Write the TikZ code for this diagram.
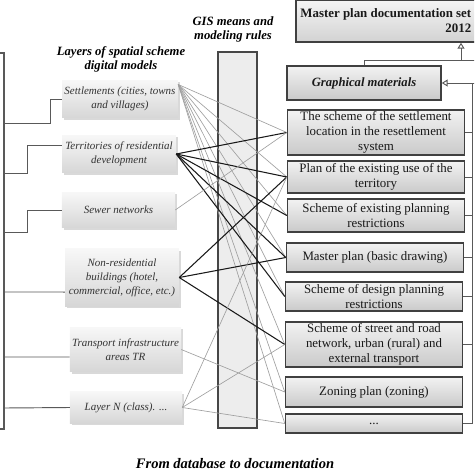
\documentclass[tikz,border=0pt]{standalone}
\usepackage{fontspec}
\setmainfont{Liberation Serif}
\usetikzlibrary{arrows.meta,shadows}

\begin{document}
\begin{tikzpicture}[x=0.03cm,y=-0.03cm,
		laybox/.style={top color=gray!6,bottom color=gray!32,drop shadow={opacity=0.3,shadow xshift=1.5pt,shadow yshift=-1.5pt},align=center,inner sep=1pt,text=black!80,font=\fontsize{9.4}{11.9}\selectfont\itshape},
		docbox/.style={draw=black!75,line width=1.3pt,top color=gray!10,bottom color=gray!42,align=center,inner sep=0.5pt,minimum width=151pt,text=black!90,font=\fontsize{11}{12.8}\selectfont},
		headtxt/.style={align=center,font=\fontsize{10.8}{12}\selectfont\bfseries\itshape},
		wire/.style={draw=black!65,line width=0.8pt},
		darkwire/.style={draw=black!90,line width=0.9pt},
		palewire/.style={draw=gray!75,line width=0.55pt},
		hollowarr/.style={wire,-{Triangle[open,length=5pt,width=6pt]}}]
				% 画布范围
				\useasboundingbox (0,0) rectangle (474,474);
				\clip (0,0) rectangle (474,474);
				% 左侧数据库框与 GIS 竖条
				\node[draw=black!65,line width=1pt,fill=white,minimum width=29pt,minimum height=321pt,inner sep=0pt] (base) at (-13,241) {};
				\node[draw=black!72,line width=1.3pt,fill=gray!14,minimum width=33.3pt,minimum height=321pt,inner sep=0pt] (gis) at (237.5,240) {};
				% 标题
				\node[headtxt] (hlay) at (121,59) {Layers of spatial scheme\\digital models};
				\node[headtxt] (hgis) at (233,29) {GIS means and\\modeling rules};
				\node[headtxt,font=\fontsize{12.4}{14}\selectfont\bfseries\itshape] (cap) at (235,464) {From database to documentation};
				% 图层
				\node[laybox,minimum width=99pt,minimum height=32.4pt] (lay1) at (120,99) {Settlements (cities, towns\\and villages)};
				\node[laybox,minimum width=97.3pt,minimum height=32.4pt] (lay2) at (119,154) {Territories of residential\\development};
				\node[laybox,minimum width=96.5pt,minimum height=30.7pt] (lay3) at (118.5,210) {Sewer networks};
				\node[laybox,minimum width=97.3pt,minimum height=48.7pt] (lay4) at (122,277.5) {Non-residential\\buildings (hotel,\\commercial, office, etc.)};
				\node[laybox,minimum width=94.8pt,minimum height=38.4pt] (lay5) at (125.5,349.5) {Transport infrastructure\\areas TR};
				\node[laybox,minimum width=95.6pt,minimum height=26.5pt] (lay6) at (126,407.5) {Layer N (class). ...};
				% 文档
				\node[docbox,anchor=west,top color=gray!8,bottom color=gray!35,minimum height=35.9pt,inner xsep=4pt,align=right,font=\fontsize{11}{12.8}\selectfont\bfseries] (mset) at (295,21) {Master plan documentation set\kern22pt\\2012\kern22pt};
				\node[docbox,minimum width=131.5pt,minimum height=29pt,font=\fontsize{10.8}{12}\selectfont\bfseries\itshape] (graph) at (364,83) {Graphical materials};
				\node[docbox,minimum height=38.4pt] (doc1) at (376,132.5) {The scheme of the settlement\\location in the resettlement\\system};
				\node[docbox,minimum height=27.3pt] (doc2) at (376,177) {Plan of the existing use of the\\territory};
				\node[docbox,minimum height=28.2pt] (doc3) at (376,215.5) {Scheme of existing planning\\restrictions};
				\node[docbox,minimum height=24.8pt] (doc4) at (375,257.5) {Master plan (basic drawing)};
				\node[docbox,minimum height=24.8pt] (doc5) at (374,296.5) {Scheme of design planning\\restrictions};
				\node[docbox,minimum height=38.4pt] (doc6) at (374,344.5) {Scheme of street and road\\network, urban (rural) and\\external transport};
				\node[docbox,minimum height=25.6pt] (doc7) at (374,392) {Zoning plan (zoning)};
				\node[docbox,minimum height=16.2pt] (doc8) at (374,423.5) {...};
				% 右侧连线与箭头
				\coordinate (rt) at (472,83);
				\coordinate (ra) at (480,83);
				\coordinate (tr) at (480,60);
				\coordinate (j1) at (461,60);
				\draw[hollowarr] (ra) -- (graph.east);
				\draw[wire] (graph.north) |- (tr);
				\draw[hollowarr] (j1) -- (j1 |- mset.south);
				\draw[wire] (rt) -- (rt |- doc8.east);
				\foreach \d in {1,2,3,4,5,6,8}
					\draw[wire] (doc\d.east) -- (doc\d.east -| rt);
				% 左侧台阶连线
				\draw[wire] (lay1.west) -- ++(-11,0) |- (base.east |- 0,123);
				\draw[wire] ([yshift=7.7pt]lay2.west) -- ++(-34,0) |- (base.east |- 0,173);
				\draw[wire] (lay3.west) -- ++(-34,0) |- (base.east |- 0,232);
				\draw[wire] ([yshift=-12.4pt]lay4.west) -- (base.east |- 0,292);
				\draw[wire] ([yshift=-6.4pt]lay5.west) -- (base.east |- 0,357);
				\draw[wire] (lay6.west) -- (base.east |- 0,408);
				% 图层到文档的连线
				\foreach \d in {1,...,8}
					\draw[palewire] (lay1.14) -- (doc\d.west);
				\foreach \d in {1,...,5}
					\draw[darkwire] (lay2.east) -- (doc\d.west);
				\draw[palewire] (lay3.east) -- (doc1.west);
				\foreach \d in {2,4,6}
					\draw[darkwire] (lay4.east) -- (doc\d.west);
				\draw[palewire] (lay5.east) -- (doc7.west);
				\foreach \d in {2,6,8}
					\draw[palewire] (lay6.east) -- (doc\d.west);
			\end{tikzpicture}
\end{document}
